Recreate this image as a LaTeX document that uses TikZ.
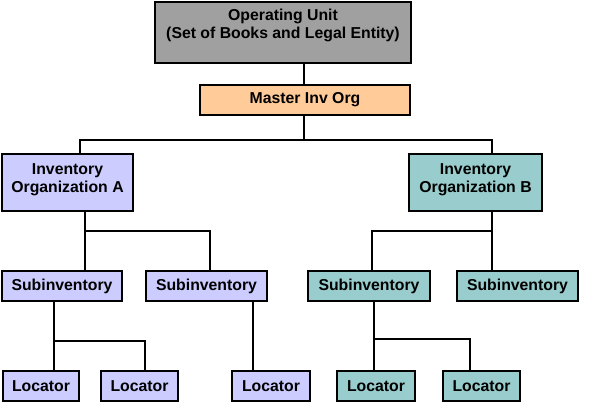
\documentclass[tikz,border=0pt]{standalone}
\usepackage{fontspec}
\setmainfont{Liberation Sans}
\definecolor{ougray}{HTML}{A0A0A0}
\definecolor{mastor}{HTML}{FFCC99}
\definecolor{lavc}{HTML}{CCCCFF}
\definecolor{tealc}{HTML}{99CCCC}
\begin{document}
\begin{tikzpicture}[x=1pt,y=-1pt,
  txt/.style={font=\fontsize{15.8}{18}\selectfont\bfseries},
  box/.style={draw=black, line width=2.6pt, inner sep=0pt, align=center, txt},
  conn/.style={draw=black, line width=2.6pt, line join=miter},
  abox/.style={box, fill=lavc},
  bbox/.style={box, fill=tealc},
  subbox/.style={minimum height=30pt},
  locbox/.style={minimum height=30pt}]
\useasboundingbox (0,0) rectangle (598,403);
% top
\node[box, fill=ougray, minimum width=256pt, minimum height=61pt,
  label={[align=center, anchor=north, inner sep=0pt, yshift=-8pt, txt]north:Operating Unit\\(Set of Books and Legal Entity)}]
  (ou) at (283,32.5) {};
\node[box, fill=mastor, minimum width=210pt, minimum height=30pt] (master) at (305,100) {Master Inv Org};
% inventory orgs
\node[abox, minimum width=131pt, minimum height=57pt] (invA) at (67.5,182.5) {Inventory\\Organization A\\[-9pt]};
\node[bbox, minimum width=133pt, minimum height=57pt] (invB) at (475.5,182.5) {Inventory\\Organization B\\[-9pt]};
% subinventories
\node[abox, subbox, minimum width=120pt] (subA1) at (62,286) {Subinventory};
\node[abox, subbox, minimum width=121pt] (subA2) at (206.5,286) {Subinventory};
\node[bbox, subbox, minimum width=122pt] (subB1) at (369,286) {Subinventory};
\node[bbox, subbox, minimum width=121pt] (subB2) at (517.5,286) {Subinventory};
% locators
\node[abox, locbox, minimum width=76pt] (loc1) at (41,386) {Locator};
\node[abox, locbox, minimum width=77pt] (loc2) at (139.5,386) {Locator};
\node[abox, locbox, minimum width=78pt] (loc3) at (271,386) {Locator};
\node[bbox, locbox, minimum width=78pt] (loc4) at (376,386) {Locator};
\node[bbox, locbox, minimum width=77pt] (loc5) at (481.5,386) {Locator};
% junction coordinates
\coordinate (j0) at (304,140);
\coordinate (j0L) at (80,140);
\coordinate (j0R) at (492,140);
\coordinate (jAL) at (85,231);
\coordinate (jAR) at (210,231);
\coordinate (jBL) at (372,231);
\coordinate (jBR) at (492,231);
\coordinate (jA1L) at (54,341);
\coordinate (jA1R) at (145,341);
\coordinate (jA2) at (253,341);
\coordinate (jB1L) at (374,339);
\coordinate (jB1R) at (470,339);
% connectors
\draw[conn] (ou.south -| j0) -- (master.north -| j0);
\draw[conn] (master.south -| j0) -- (j0);
\draw[conn] (invA.north -| j0L) -- (j0L) -- (j0R) -- (invB.north -| j0R);
\draw[conn] (invA.south -| jAL) -- (subA1.north -| jAL);
\draw[conn] (jAL) -- (jAR) -- (subA2.north -| jAR);
\draw[conn] (invB.south -| jBR) -- (subB2.north -| jBR);
\draw[conn] (jBR) -- (jBL) -- (subB1.north -| jBL);
\draw[conn] (subA1.south -| jA1L) -- (loc1.north -| jA1L);
\draw[conn] (jA1L) -- (jA1R) -- (loc2.north -| jA1R);
\draw[conn] (subA2.south -| jA2) -- (loc3.north -| jA2);
\draw[conn] (subB1.south -| jB1L) -- (loc4.north -| jB1L);
\draw[conn] (jB1L) -- (jB1R) -- (loc5.north -| jB1R);
\end{tikzpicture}
\end{document}
